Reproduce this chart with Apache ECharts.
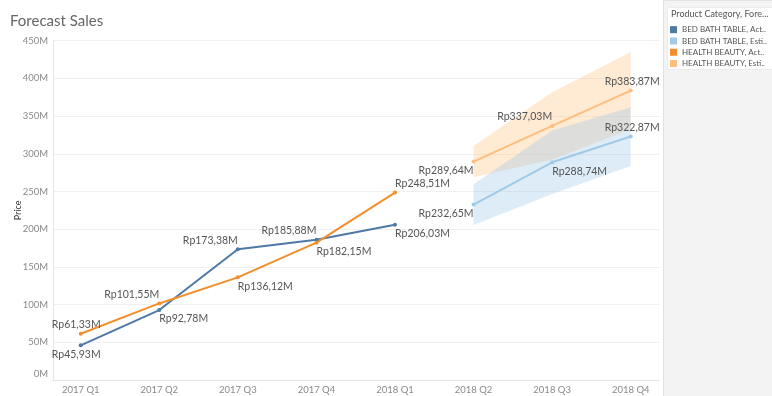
<!DOCTYPE html>
<html>
<head>
<meta charset="utf-8">
<script src="https://cdn.jsdelivr.net/npm/echarts@6/dist/echarts.min.js"></script>
<style>
html,body{margin:0;padding:0;background:#fff;}
#chart{width:772px;height:396px;}
</style>
</head>
<body>
<div id="chart"></div>
<script>
// ---- data ----
const categories = ['2017 Q1','2017 Q2','2017 Q3','2017 Q4','2018 Q1','2018 Q2','2018 Q3','2018 Q4'];
const yTickValues = [0,50,100,150,200,250,300,350,400,450];
// actual values (M), quarters 2017 Q1 .. 2018 Q1
const bedActual = [45.93, 92.78, 173.38, 185.88, 206.03];
const healthActual = [61.33, 101.55, 136.12, 182.15, 248.51];
// estimates (M), quarters 2018 Q2 .. 2018 Q4
const bedEstimate = [232.65, 288.74, 322.87];
const healthEstimate = [289.64, 337.03, 383.87];
// prediction interval (M)
const bedLower = [205.6, 246.7, 283.8];
const bedUpper = [259.7, 330.8, 361.9];
const healthLower = [269.0, 292.5, 332.7];
const healthUpper = [310.3, 381.6, 435.0];

const names = ['BED BATH TABLE, Actual','BED BATH TABLE, Estimate','HEALTH BEAUTY, Actual','HEALTH BEAUTY, Estimate'];
const legendShort = {
  'BED BATH TABLE, Actual': 'BED BATH TABLE, Act..',
  'BED BATH TABLE, Estimate': 'BED BATH TABLE, Esti..',
  'HEALTH BEAUTY, Actual': 'HEALTH BEAUTY, Act..',
  'HEALTH BEAUTY, Estimate': 'HEALTH BEAUTY, Esti..'
};
const colors = ['#4e79a7','#a0cbe8','#f28e2b','#ffbe7d'];

// ---- label placement (style) ----
const P = {
  t:  {align:'center', dx:0,   dy:-9},
  b:  {align:'center', dx:0,   dy:9},
  tl: {align:'right',  dx:0,   dy:-9},
  tr: {align:'left',   dx:0,   dy:-9},
  bl: {align:'right',  dx:0,   dy:9},
  br: {align:'left',   dx:0,   dy:9},
  t0: {align:'center', dx:-4.5, dy:-9},
  b0: {align:'center', dx:-4.5, dy:9},
  tq: {align:'center', dx:1.5, dy:-9}
};
const bedActualPlace = ['b0','br','tl','tl','br'];
const healthActualPlace = ['t0','tl','br','br','tr'];
const bedEstPlace = ['bl','br','tq'];
const healthEstPlace = ['bl','tl','tq'];

const fmt = v => 'Rp' + v.toFixed(2).replace('.', ',') + 'M';
const FONT = 'Lato';

function points(values, startIdx, places) {
  return values.map((v, i) => {
    const p = P[places[i]];
    return {
      value: [startIdx + i, v],
      label: {
        show: true,
        position: 'inside',
        align: p.align,
        verticalAlign: 'middle',
        offset: [p.dx, p.dy],
        formatter: fmt(v),
        color: '#555',
        fontSize: 10.5,
        fontFamily: FONT
      }
    };
  });
}

function lineSeries(name, color, data) {
  return {
    name: name, type: 'line', data: data, color: color,
    symbol: 'circle', symbolSize: 4,
    lineStyle: {width: 2, color: color},
    itemStyle: {color: color},
    z: 5,
    emphasis: {disabled: true},
    animation: false
  };
}

function bandSeries(id, lower, upper, startIdx, fill) {
  return {
    name: id, type: 'custom', silent: true, z: 1, animation: false,
    data: lower.map((v, i) => [startIdx + i, v, upper[i]]),
    encode: {x: 0, y: [1, 2]},
    renderItem: function (params, api) {
      if (params.dataIndex !== 0) return null;
      const top = [], bottom = [];
      for (let i = 0; i < lower.length; i++) {
        top.push(api.coord([startIdx + i, upper[i]]));
        bottom.unshift(api.coord([startIdx + i, lower[i]]));
      }
      return {
        type: 'polygon',
        shape: {points: top.concat(bottom)},
        style: {fill: fill, stroke: 'none'}
      };
    }
  };
}

const chart = echarts.init(document.getElementById('chart'), null, {renderer: 'canvas'});
const axisFont = {color: '#8a8a8a', fontSize: 9.5, fontFamily: FONT};

chart.setOption({
  animation: false,
  backgroundColor: '#fff',
  title: [
    {text: 'Forecast Sales', left: 10, top: 14, padding: 0,
     textStyle: {color: '#666', fontSize: 15, fontWeight: 'normal', fontFamily: FONT}},
    {text: 'Product Category, Fore...', left: 671, top: 10, padding: 0,
     textStyle: {color: '#555', fontSize: 9, fontWeight: 'normal', fontFamily: FONT}}
  ],
  graphic: [
    {type: 'rect', left: 663, top: 0, z: -10, silent: true,
     shape: {width: 109, height: 396}, style: {fill: '#f3f3f3', stroke: '#e2e2e2', lineWidth: 1}},
    {type: 'rect', left: 667, top: 7, z: -9, silent: true,
     shape: {width: 106, height: 62}, style: {fill: '#fff', stroke: '#ececec', lineWidth: 1}}
  ],
  legend: {
    data: names,
    orient: 'vertical', left: 670, top: 24, padding: 0,
    itemWidth: 7, itemHeight: 7, itemGap: 0,
    icon: 'rect',
    selectedMode: false,
    formatter: n => legendShort[n],
    textStyle: {color: '#555', fontSize: 8, fontFamily: FONT, lineHeight: 11.3}
  },
  grid: {left: 53, right: 113, top: 40.7, bottom: 16, containLabel: false},
  xAxis: {
    type: 'value', min: -0.3525, max: 7.36,
    axisLine: {show: true, onZero: false, lineStyle: {color: '#e6e6e6'}},
    axisTick: {show: false},
    splitLine: {show: false},
    axisLabel: {
      customValues: categories.map((c, i) => i),
      formatter: v => categories[Math.round(v)],
      margin: 5, ...axisFont
    }
  },
  yAxis: {
    type: 'value', min: 0, max: 450, interval: 50,
    name: 'Price', nameLocation: 'middle', nameGap: 30, nameRotate: 90,
    nameMoveOverlap: false,
    nameTextStyle: {color: '#333', fontSize: 9, fontFamily: FONT},
    axisLine: {show: true, onZero: false, lineStyle: {color: '#e6e6e6'}},
    axisTick: {show: false},
    splitLine: {show: true, lineStyle: {color: '#f0f0f0', width: 1}},
    axisLabel: {
      margin: 5, ...axisFont,
      formatter: v => v === 0 ? '{z|0M}' : v + 'M',
      rich: {z: {color: '#8a8a8a', fontSize: 9.5, fontFamily: FONT, padding: [0, 0, 12, 0]}}
    }
  },
  series: [
    bandSeries('hb', healthLower, healthUpper, 5, 'rgba(255,190,125,0.33)'),
    bandSeries('bb', bedLower, bedUpper, 5, 'rgba(160,203,232,0.36)'),
    lineSeries(names[0], colors[0], points(bedActual, 0, bedActualPlace)),
    lineSeries(names[1], colors[1], points(bedEstimate, 5, bedEstPlace)),
    lineSeries(names[2], colors[2], points(healthActual, 0, healthActualPlace)),
    lineSeries(names[3], colors[3], points(healthEstimate, 5, healthEstPlace))
  ]
});
</script>
</body>
</html>
